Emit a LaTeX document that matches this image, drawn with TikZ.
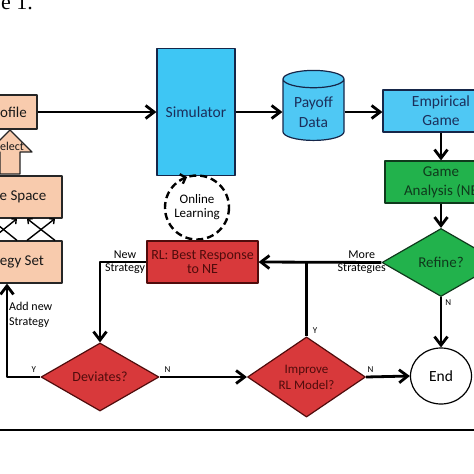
\documentclass[tikz,border=0pt]{standalone}
\usepackage{fontspec}
\setmainfont{Carlito}
\newfontfamily\capfont{Liberation Serif}
\usetikzlibrary{arrows.meta, positioning, shapes.geometric, decorations.markings}
\definecolor{simblue}{HTML}{3EC6F4}
\definecolor{datablue}{HTML}{4FC8F4}
\definecolor{navytext}{HTML}{1B2F5B}
\definecolor{flowgreen}{HTML}{22B24C}
\definecolor{greentext}{HTML}{0F3A1C}
\definecolor{flowred}{HTML}{D8393B}
\definecolor{redtext}{HTML}{500C0C}
\definecolor{peach}{HTML}{F8CBAD}

\begin{document}
\begin{tikzpicture}[x=1pt, y=-1pt, line join=round,
	>={Straight Barb[length=8.5pt, width=13pt]},
	flow/.style={->, line width=2.8pt},
	joinline/.style={line width=2.8pt},
	xarrow/.style={-{Straight Barb[length=3.5pt, width=7pt]}, line width=1.4pt},
	box/.style={draw, line width=1.2pt, align=center, inner sep=2pt},
	bluebox/.style={box, fill=simblue, draw=navytext!80!black, text=navytext,
		font=\fontsize{15.5}{19}\selectfont},
	greenbox/.style={box, fill=flowgreen, draw=greentext, text=greentext,
		font=\fontsize{15}{19}\selectfont},
	redbox/.style={box, fill=flowred, draw=redtext, text=redtext,
		font=\fontsize{14}{14}\selectfont},
	peachbox/.style={box, fill=peach, draw=black!85, text=black!90,
		font=\fontsize{15}{18}\selectfont},
	dia/.style={diamond, draw, line width=1.2pt, align=center, inner sep=0pt,
		minimum width=118pt, minimum height=68pt},
	lab/.style={font=\fontsize{12}{15}\selectfont, align=center, inner sep=0pt},
	yn/.style={font=\fontsize{9}{10}\selectfont, inner sep=0pt}]
\useasboundingbox (0,0) rectangle (474,474);

%========================
% top: caption rest and strategy column
%========================
\node[anchor=base west, inner sep=0pt, font=\capfont\fontsize{22}{24}\selectfont] (fig) at (1,9.5) {e 1.};

\node[peachbox, minimum width=47pt, minimum height=34pt] (profile) at (13.5,112) {ofile};
\node[peachbox, minimum width=78pt, minimum height=42pt] (space) at (23,197) {e Space};
\node[peachbox, minimum width=80pt, minimum height=42pt] (set) at (22,262) {egy Set};

% select arrow (block)
\draw[fill=peach, draw=black!85, line width=1.2pt]
	(0,174) -- (20,174) -- (20,152) -- (32,152) -- (10,130) -- (-12,152) -- (0,152) -- cycle;
\node[lab, text=black!90] (select) at (12,146) {elect};

% set -> space crossings
\foreach \a/\b in {-32/-6, -5/-33, 5/32, 33/4}
	\draw[xarrow] ([xshift=\a pt]set.north) -- ([xshift=\b pt]space.south);

%========================
% simulation and game
%========================
\node[bluebox, minimum width=78pt, minimum height=127pt] (sim) at (196,112) {Simulator};
\node[cylinder, shape border rotate=90, aspect=0.38, draw, line width=1.2pt,
	fill=datablue, draw=navytext!80!black, text=navytext, align=center,
	font=\fontsize{15.5}{20}\selectfont, minimum width=61pt, minimum height=70pt]
	(payoff) at (313.5,112) {Payoff\\Data};
\node[bluebox, fill=datablue, minimum width=116pt, minimum height=42pt] (emp) at (441,111) {Empirical\\Game};
\node[greenbox, minimum width=112pt, minimum height=42pt] (ga) at (441,182) {Game\\Analysis (NE};
\node[dia, fill=flowgreen, draw=greentext, text=greentext,
	font=\fontsize{15}{18}\selectfont] (refine) at (441,262.5) {Refine?};
\node[ellipse, draw, line width=1.2pt, minimum width=61pt, minimum height=56pt,
	font=\fontsize{15.5}{18}\selectfont] (end) at (441,376) {End};

% online learning loop
\node[lab, font=\fontsize{13}{14}\selectfont] (online) at (197,207.5) {Online\\Learning};
\draw[line width=2.4pt, dash pattern=on 7pt off 4pt, postaction={decorate},
	decoration={markings,
		mark=at position 0.70 with {\arrow[solid]{Straight Barb[length=4.5pt, width=10pt]}},
		mark=at position 0.27 with {\arrow[solid]{Straight Barb[length=4.5pt, width=10pt]}}}]
	(online.center) circle (32);

%========================
% best response loop
%========================
\node[redbox, minimum width=111pt, minimum height=42pt] (rl) at (202.5,262) {RL: Best Response\\to NE};
\node[dia, fill=flowred, draw=redtext, text=redtext,
	font=\fontsize{14}{16}\selectfont] (dev) at (100,377) {Deviates?};
\node[dia, fill=flowred, draw=redtext, text=redtext,
	font=\fontsize{13}{16}\selectfont] (improve) at (306.5,377) {Improve\\RL Model?};

% connectors
\draw[flow] (profile.east) -- (sim.west |- profile.east);
\draw[flow] (sim.east) -- (payoff.west |- sim.east);
\draw[flow] (payoff.east |- sim.east) -- (emp.west |- sim.east);
\draw[flow] (emp) -- (ga);
\draw[flow] (ga) -- (refine);
\draw[flow] (refine) -- (end) node[yn, pos=0.1, right=3pt] (n3) {N};
\draw[flow] (refine.west) -- (rl.east) node[lab, pos=0.16] (more) {More\\[-2pt]Strategies};
\draw[joinline] (improve.north) -- (improve.north |- rl.east) node[yn, pos=0.08, right=5pt] (y2) {Y};
\draw[flow] (improve.east) -- (end.west) node[yn, pos=0.1, above=3pt] (n2) {N};
\draw[flow] (dev.east) -- (improve.west) node[yn, pos=0.09, above=3pt] (n1) {N};
\draw[flow] (rl.west) -| (dev.north) node[lab, pos=0.23] (newst) {New\\[-2pt]Strategy};
\draw[flow] (dev.west) -| ([xshift=-15pt]set.south) node[yn, pos=0.1, above=3pt] (y1) {Y};
\node[lab, align=left, anchor=west] (addnew) at (9,315) {Add new\\Strategy};

% bottom rule
\draw[line width=2pt] (0,430) -- (474,430);
\end{tikzpicture}
\end{document}
